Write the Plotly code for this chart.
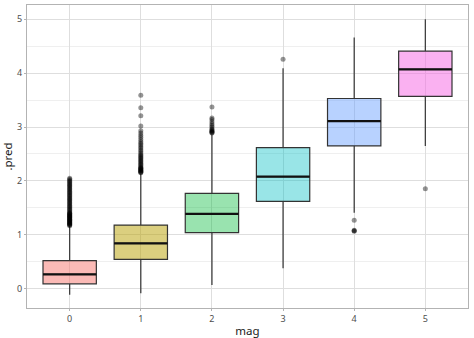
import plotly.graph_objects as go

categories = ["0", "1", "2", "3", "4", "5"]
q1 = [0.09, 0.545, 1.04, 1.62, 2.65, 3.57]
median = [0.265, 0.84, 1.39, 2.08, 3.11, 4.07]
q3 = [0.52, 1.18, 1.77, 2.62, 3.53, 4.41]
lower = [-0.11, -0.085, 0.07, 0.38, 1.41, 2.65]
upper = [1.16, 2.13, 2.86, 4.09, 4.66, 5.0]
outliers = [
    [1.17, 1.18, 1.19, 1.2, 1.21, 1.22, 1.23, 1.24, 1.25, 1.26, 1.27, 1.28, 1.29, 1.3, 1.31, 1.32,
     1.33, 1.34, 1.35, 1.36, 1.37, 1.38, 1.39, 1.4, 1.41, 1.43, 1.45, 1.47, 1.49, 1.51, 1.53,
     1.55, 1.57, 1.59, 1.61, 1.63, 1.65, 1.67, 1.69, 1.71, 1.73, 1.75, 1.77, 1.79, 1.81, 1.83,
     1.85, 1.87, 1.89, 1.91, 1.93, 1.95, 1.97, 1.99, 2.01, 2.03, 2.05],
    [2.15, 2.16, 2.17, 2.18, 2.19, 2.2, 2.21, 2.22, 2.23, 2.24, 2.25, 2.27, 2.29, 2.31, 2.33,
     2.35, 2.37, 2.39, 2.41, 2.43, 2.45, 2.47, 2.49, 2.52, 2.55, 2.58, 2.61, 2.64, 2.67, 2.70,
     2.73, 2.77, 2.81, 2.85, 2.89, 2.93, 3.02, 3.21, 3.36, 3.59],
    [2.89, 2.9, 2.91, 2.92, 2.93, 2.95, 2.97, 3.0, 3.03, 3.06, 3.1, 3.14, 3.17, 3.37],
    [4.26],
    [1.27, 1.085, 1.075, 1.065],
    [1.855],
]
fills = ["rgba(248,118,109,0.5)", "rgba(183,159,0,0.5)", "rgba(0,186,56,0.4)",
         "rgba(0,191,196,0.4)", "rgba(97,156,255,0.45)", "rgba(245,100,227,0.5)"]

BOX_W = 0.75
fig = go.Figure()
for i, c in enumerate(categories):
    fig.add_trace(go.Box(
        x=[i], q1=[q1[i]], median=[median[i]], q3=[q3[i]],
        lowerfence=[lower[i]], upperfence=[upper[i]],
        width=BOX_W, whiskerwidth=0, fillcolor=fills[i],
        line=dict(color="#333333", width=1.2), boxpoints=False,
        showlegend=False, hoverinfo="skip"))
    fig.add_trace(go.Scatter(
        x=[i - BOX_W / 2, i + BOX_W / 2], y=[median[i], median[i]], mode="lines",
        line=dict(color="#111111", width=2.2), showlegend=False, hoverinfo="skip"))
    fig.add_trace(go.Scatter(
        x=[i] * len(outliers[i]), y=outliers[i], mode="markers",
        marker=dict(color="rgba(0,0,0,0.42)", size=5, line=dict(width=0)),
        showlegend=False, hoverinfo="skip"))

fig.update_layout(
    width=474, height=338,
    margin=dict(l=27, r=6, t=5, b=30),
    plot_bgcolor="white", paper_bgcolor="white",
    font=dict(family="Noto Sans, DejaVu Sans, sans-serif", color="#1a1a1a"),
    xaxis=dict(
        range=[-0.6, 5.6], tickmode="array", tickvals=list(range(len(categories))),
        ticktext=categories, showgrid=True, gridcolor="#dedede", gridwidth=1,
        zeroline=False, ticks="outside", ticklen=2, tickcolor="#b3b3b3",
        tickfont=dict(size=9, color="#4d4d4d"), automargin=False,
        title=dict(text="mag", font=dict(size=11.5), standoff=3),
        showline=True, linecolor="#b3b3b3", mirror=True, linewidth=1),
    yaxis=dict(
        range=[-0.358, 5.265], tickmode="array", tickvals=[0, 1, 2, 3, 4, 5],
        showgrid=True, gridcolor="#dedede", gridwidth=1,
        minor=dict(showgrid=True, gridcolor="#efefef", tickvals=[0.5, 1.5, 2.5, 3.5, 4.5],
                   gridwidth=1),
        zeroline=False, ticks="outside", ticklen=2, tickcolor="#b3b3b3",
        tickfont=dict(size=9, color="#4d4d4d"), automargin=False,
        title=dict(text=".pred", font=dict(size=11.5), standoff=4),
        showline=True, linecolor="#b3b3b3", mirror=True, linewidth=1),
)
fig.write_html("out.html")
